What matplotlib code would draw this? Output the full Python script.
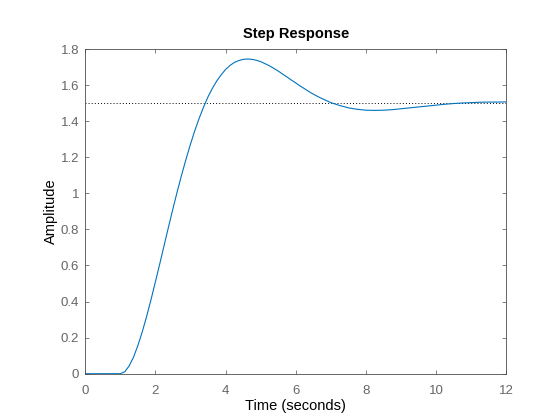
import matplotlib
matplotlib.use("Agg")
import matplotlib.pyplot as plt

# step response (time in s, amplitude)
time = [0.0, 1.0, 1.125, 1.25, 1.375, 1.5, 1.625, 1.75, 1.875, 2.0, 2.125,
        2.25, 2.375, 2.5, 2.625, 2.75, 2.875, 3.0, 3.125, 3.25, 3.375, 3.5,
        3.625, 3.75, 3.875, 4.0, 4.125, 4.25, 4.375, 4.5, 4.625, 4.75, 4.875,
        5.0, 5.125, 5.25, 5.375, 5.5, 5.625, 5.75, 5.875, 6.0, 6.125, 6.25,
        6.375, 6.5, 6.625, 6.75, 6.875, 7.0, 7.25, 7.5, 7.75, 8.0, 8.25, 8.5,
        8.75, 9.0, 9.25, 9.5, 9.75, 10.0, 10.25, 10.5, 10.75, 11.0, 11.25,
        11.5, 11.75, 12.0]
amplitude = [0.0, 0.0, 0.011, 0.043, 0.092, 0.157, 0.233, 0.319, 0.412, 0.511,
             0.611, 0.714, 0.816, 0.916, 1.013, 1.105, 1.192, 1.274, 1.350,
             1.418, 1.480, 1.536, 1.583, 1.624, 1.658, 1.687, 1.709, 1.726,
             1.736, 1.743, 1.745, 1.743, 1.738, 1.730, 1.719, 1.707, 1.693,
             1.678, 1.661, 1.645, 1.628, 1.612, 1.595, 1.580, 1.564, 1.550,
             1.537, 1.525, 1.514, 1.503, 1.487, 1.474, 1.466, 1.461, 1.460,
             1.461, 1.464, 1.469, 1.474, 1.479, 1.484, 1.489, 1.494, 1.498,
             1.501, 1.503, 1.505, 1.506, 1.506, 1.507]
final_value = 1.5

xticks = [0, 2, 4, 6, 8, 10, 12]
yticks = [0, 0.2, 0.4, 0.6, 0.8, 1.0, 1.2, 1.4, 1.6, 1.8]
ytick_labels = ["0", "0.2", "0.4", "0.6", "0.8", "1", "1.2", "1.4", "1.6", "1.8"]

plt.rcParams["font.family"] = ["Liberation Sans", "DejaVu Sans"]

fig = plt.figure(figsize=(5.6, 4.2), dpi=100)
ax = fig.add_axes([0.1523, 0.1102, 0.7518, 0.773])

ax.plot([0, 12], [final_value, final_value], color="black", lw=0.7,
        dashes=(1, 2.2))
ax.plot(time, amplitude, color="#0072BD", lw=0.8)

ax.set_xlim(0, 12)
ax.set_ylim(0, 1.8)
ax.set_xticks(xticks)
ax.set_yticks(yticks)
ax.set_yticklabels(ytick_labels)

ax.tick_params(direction="in", length=2.9, width=0.5, colors="#4d4d4d",
               labelcolor="#666666", labelsize=9.5, top=True, right=True)
ax.tick_params(axis="y", pad=4.5)
ax.tick_params(axis="x", pad=8)
for s in ax.spines.values():
    s.set_color("#4d4d4d")
    s.set_linewidth(0.6)

ax.set_title("Step Response", fontsize=10.5, fontweight="bold", pad=8)
ax.set_xlabel("Time (seconds)", fontsize=10.5, labelpad=1.5)
ax.set_ylabel("Amplitude", fontsize=10.5, labelpad=2)

fig.savefig("out.png", dpi=100)
